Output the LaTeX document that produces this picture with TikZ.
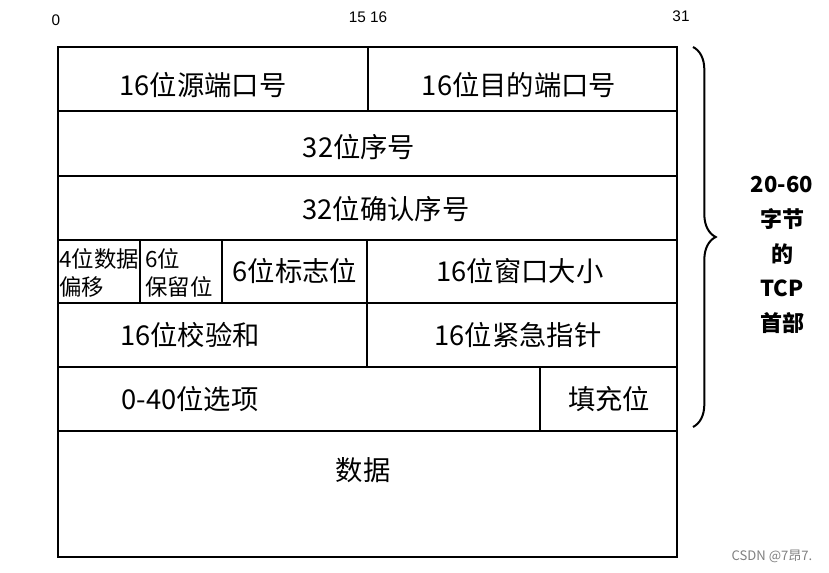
\documentclass[tikz,border=0pt]{standalone}
\usepackage{fontspec}
\setmainfont{Noto Sans CJK SC}
\newfontfamily\arial{Liberation Sans}
\usetikzlibrary{decorations.pathreplacing}

\tikzset{
  field/.style={font=\fontsize{20.5}{24}\selectfont, inner sep=0pt},
  smallfield/.style={font=\fontsize{16.8}{21.5}\selectfont, align=left, anchor=west, inner sep=0pt},
  bitno/.style={font=\arial\fontsize{11.5}{13}\selectfont, inner sep=0pt},
  grid/.style={line width=1.5pt},
}

\begin{document}
\begin{tikzpicture}[x=0.75pt,y=-0.75pt]
\useasboundingbox (0,0) rectangle (829,573);
% bit numbers
\node[bitno] (b0) at (56,20) {0};
\node[bitno] (b15) at (368,17) {15 16};
\node[bitno] (b31) at (681,16) {31};
% frame and rows
\draw[grid] (58,47) rectangle (677,557);
\foreach \y in {111,176,240,303,367,431}
	\draw[grid] (58,\y) -- (677,\y);
\draw[grid] (368,47) -- (368,111);
\draw[grid] (140,240) -- (140,303);
\draw[grid] (222,240) -- (222,303);
\draw[grid] (367,240) -- (367,367);
\draw[grid] (540,367) -- (540,431);
% fields
\node[field] (srcport) at (203,85) {16位源端口号};
\node[field] (dstport) at (519,85) {16位目的端口号};
\node[field] (seq) at (359,147) {32位序号};
\node[field] (ack) at (386,209) {32位确认序号};
\node[smallfield] (offset) at (59,273) {4位数据\\偏移};
\node[smallfield] (rsv) at (145,273) {6位\\保留位};
\node[field] (flags) at (295,271) {6位标志位};
\node[field] (window) at (520,271) {16位窗口大小};
\node[field] (checksum) at (190,335) {16位校验和};
\node[field] (urgent) at (518,335) {16位紧急指针};
\node[field] (options) at (190,399) {0-40位选项};
\node[field] (padding) at (609,399) {填充位};
\node[field] (data) at (363,470) {数据};
% header brace
\draw[line width=1.5pt, decorate, decoration={brace, amplitude=17pt}] (693,47) -- (693,427);
\node[font=\bfseries\fontsize{16.5}{26}\selectfont, align=center, inner sep=0pt] (hdr) at (782,255) {20-60\\字节\\的\\TCP\\首部};
\node[font=\fontsize{9.8}{11}\selectfont, text=gray, inner sep=0pt] (mark) at (772,556) {CSDN @7昂7.};
\end{tikzpicture}
\end{document}
